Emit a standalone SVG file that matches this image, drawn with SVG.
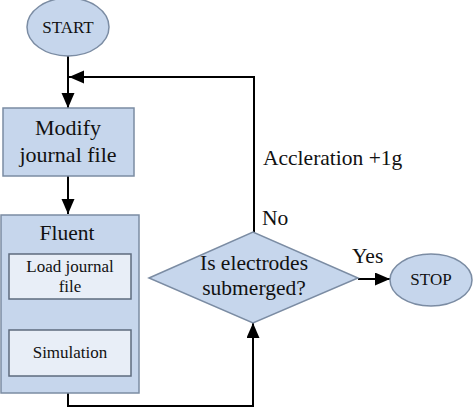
<svg xmlns="http://www.w3.org/2000/svg" width="474" height="408" viewBox="0 0 474 408">
<style>
.shape{fill:#c6d6ec;stroke:#7b8ca3;stroke-width:1.5}
.inner{fill:#e8eef7;stroke:#5d6b7e;stroke-width:1.5}
text{font-family:'Liberation Serif','Times New Roman',Tinos,'DejaVu Serif',serif;fill:#111}
.t{text-anchor:middle}
.c{fill:none;stroke:#000;stroke-width:2}
</style>
<defs>
<marker id="arr" markerUnits="userSpaceOnUse" markerWidth="16" markerHeight="14" refX="15" refY="6.5" orient="auto">
<path d="M0,0 L15,6.5 L0,13 z" fill="#000"/>
</marker>
</defs>
<rect width="474" height="408" fill="#fff"/>
<g id="connectors">
<path class="c" d="M68,56 V108" marker-end="url(#arr)"/>
<path class="c" d="M254,232 V77 H69" marker-end="url(#arr)"/>
<path class="c" d="M68,176 V214" marker-end="url(#arr)"/>
<path class="c" d="M70,299 V330" marker-end="url(#arr)"/>
<path class="c" d="M68,393 V406 H253 V323" marker-end="url(#arr)"/>
<path class="c" d="M358,279 H390" marker-end="url(#arr)"/>
</g>
<g id="start">
<ellipse class="shape" cx="68" cy="27" rx="41" ry="29"/>
<text class="t" x="68" y="33" font-size="17">START</text>
</g>
<g id="modify">
<rect class="shape" x="3" y="108" width="131" height="68"/>
<text class="t" x="68" y="135" font-size="22">Modify</text>
<text class="t" x="68" y="162" font-size="22">journal file</text>
</g>
<g id="fluent">
<rect class="shape" x="1" y="215" width="138" height="178"/>
<text class="t" x="67" y="240" font-size="21.5">Fluent</text>
</g>
<g id="load">
<rect class="inner" x="9" y="254" width="122" height="45"/>
<text class="t" x="70" y="272" font-size="17">Load journal</text>
<text class="t" x="70" y="292" font-size="17">file</text>
</g>
<g id="simulation">
<rect class="inner" x="9" y="330" width="122" height="46"/>
<text class="t" x="70" y="358" font-size="17">Simulation</text>
</g>
<g id="decision">
<polygon class="shape" points="149,278 253,232 358,278 253,323"/>
<text class="t" x="254" y="270" font-size="21.5">Is electrodes</text>
<text class="t" x="254" y="295" font-size="21.5">submerged?</text>
</g>
<g id="stop">
<ellipse class="shape" cx="431" cy="280" rx="41" ry="26"/>
<text class="t" x="431" y="285" font-size="17">STOP</text>
</g>
<g id="labels">
<text x="263" y="165" font-size="21.5">Accleration +1g</text>
<text x="262" y="225" font-size="21.5">No</text>
<text x="352" y="263" font-size="21.5">Yes</text>
</g>
</svg>
